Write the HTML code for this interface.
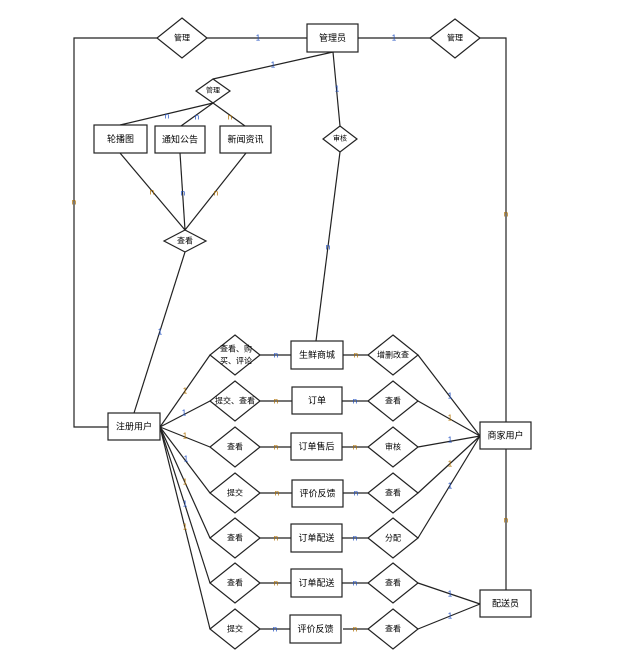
<!DOCTYPE html>
<html><head><meta charset="utf-8"><style>
html,body{margin:0;padding:0;background:#fff;width:631px;height:670px;overflow:hidden}
svg{display:block}
text{font-family:"Liberation Sans","Noto Sans CJK SC",sans-serif;font-size:9px;text-anchor:middle;dominant-baseline:central;fill:#000}
.l{font-size:8px;fill:#b07000}
.b{font-size:8px;fill:#2050c0}
line,polyline,polygon,rect{stroke:#222;stroke-width:1.2;fill:none}
rect,polygon{fill:#fff}
</style></head><body>
<svg width="631" height="670" viewBox="0 0 631 670">
<!-- connectors -->
<polyline points="157,38 74,38 74,427 108,427"/>
<line x1="207" y1="38" x2="307" y2="38"/>
<line x1="358" y1="38" x2="430" y2="38"/>
<polyline points="480,38 506,38 506,422"/>
<line x1="506" y1="449" x2="506" y2="590"/>
<line x1="333" y1="52" x2="213" y2="79"/>
<line x1="333" y1="52" x2="340" y2="126"/>
<line x1="340" y1="152" x2="316" y2="341"/>
<line x1="213" y1="103" x2="120" y2="125"/>
<line x1="213" y1="103" x2="181" y2="126"/>
<line x1="213" y1="103" x2="245" y2="126"/>
<line x1="120" y1="153" x2="185" y2="230"/>
<line x1="180" y1="153" x2="185" y2="230"/>
<line x1="246" y1="153" x2="185" y2="230"/>
<line x1="185" y1="252" x2="134" y2="413"/>
<g>
<line x1="160" y1="427" x2="210" y2="355"/>
<line x1="160" y1="427" x2="210" y2="401"/>
<line x1="160" y1="427" x2="210" y2="447"/>
<line x1="160" y1="427" x2="210" y2="493"/>
<line x1="160" y1="427" x2="210" y2="538"/>
<line x1="160" y1="427" x2="210" y2="583"/>
<line x1="160" y1="427" x2="210" y2="629"/>
</g>
<g>
<line x1="260" y1="355" x2="291" y2="355"/><line x1="343" y1="355" x2="368" y2="355"/>
<line x1="260" y1="401" x2="292" y2="401"/><line x1="342" y1="401" x2="368" y2="401"/>
<line x1="260" y1="447" x2="291" y2="447"/><line x1="342" y1="447" x2="368" y2="447"/>
<line x1="260" y1="493" x2="292" y2="493"/><line x1="343" y1="493" x2="368" y2="493"/>
<line x1="260" y1="538" x2="291" y2="538"/><line x1="342" y1="538" x2="368" y2="538"/>
<line x1="260" y1="583" x2="291" y2="583"/><line x1="342" y1="583" x2="368" y2="583"/>
<line x1="260" y1="629" x2="292" y2="629"/><line x1="343" y1="629" x2="368" y2="629"/>
</g>
<line x1="418" y1="355" x2="480" y2="436"/>
<line x1="418" y1="401" x2="480" y2="436"/>
<line x1="418" y1="447" x2="480" y2="436"/>
<line x1="418" y1="493" x2="480" y2="436"/>
<line x1="418" y1="538" x2="480" y2="436"/>
<line x1="418" y1="583" x2="480" y2="604"/>
<line x1="418" y1="629" x2="480" y2="604"/>

<!-- entities -->
<rect x="307" y="24" width="51" height="28"/><text x="332.5" y="38">管理员</text>
<rect x="94" y="125" width="53" height="28"/><text x="120.5" y="139">轮播图</text>
<rect x="155" y="126" width="50" height="27"/><text x="180" y="139.5">通知公告</text>
<rect x="220" y="126" width="51" height="27"/><text x="245.5" y="139.5">新闻资讯</text>
<rect x="108" y="413" width="52" height="27"/><text x="134" y="426.5">注册用户</text>
<rect x="291" y="341" width="52" height="28"/><text x="317" y="355">生鲜商城</text>
<rect x="292" y="387" width="50" height="27"/><text x="317" y="400.5">订单</text>
<rect x="291" y="433" width="51" height="27"/><text x="316.5" y="446.5">订单售后</text>
<rect x="292" y="480" width="51" height="27"/><text x="317.5" y="493.5">评价反馈</text>
<rect x="291" y="524" width="51" height="28"/><text x="316.5" y="538">订单配送</text>
<rect x="291" y="569" width="51" height="28"/><text x="316.5" y="583">订单配送</text>
<rect x="290" y="615" width="51" height="28"/><text x="315.5" y="629">评价反馈</text>
<rect x="480" y="422" width="51" height="27"/><text x="505.5" y="435.5">商家用户</text>
<rect x="480" y="590" width="51" height="27"/><text x="505.5" y="603.5">配送员</text>

<!-- diamonds -->
<polygon points="182,18 207,38 182,58 157,38"/><text x="182" y="38" style="font-size:8px">管理</text>
<polygon points="455,19 480,38 455,58 430,38"/><text x="455" y="38" style="font-size:8px">管理</text>
<polygon points="213,79 230,91 213,103 196,91"/><text x="213" y="91" style="font-size:7px">管理</text>
<polygon points="340,126 357,139 340,152 323,139"/><text x="340" y="139" style="font-size:7px">审核</text>
<polygon points="185,230 206,241 185,252 164,241"/><text x="185" y="241" style="font-size:8px">查看</text>

<polygon points="235,335 260,355 235,375 210,355"/><text x="236" y="349" style="font-size:8px">查看、购</text><text x="236" y="361" style="font-size:8px">买、评论</text>
<polygon points="235,381 260,401 235,421 210,401"/><text x="235" y="401" style="font-size:8px">提交、查看</text>
<polygon points="235,427 260,447 235,467 210,447"/><text x="235" y="447" style="font-size:8px">查看</text>
<polygon points="235,473 260,493 235,513 210,493"/><text x="235" y="493" style="font-size:8px">提交</text>
<polygon points="235,518 260,538 235,558 210,538"/><text x="235" y="538" style="font-size:8px">查看</text>
<polygon points="235,563 260,583 235,603 210,583"/><text x="235" y="583" style="font-size:8px">查看</text>
<polygon points="235,609 260,629 235,649 210,629"/><text x="235" y="629" style="font-size:8px">提交</text>

<polygon points="393,335 418,355 393,375 368,355"/><text x="393" y="355" style="font-size:8px">增删改查</text>
<polygon points="393,381 418,401 393,421 368,401"/><text x="393" y="401" style="font-size:8px">查看</text>
<polygon points="393,427 418,447 393,467 368,447"/><text x="393" y="447" style="font-size:8px">审核</text>
<polygon points="393,473 418,493 393,513 368,493"/><text x="393" y="493" style="font-size:8px">查看</text>
<polygon points="393,518 418,538 393,558 368,538"/><text x="393" y="538" style="font-size:8px">分配</text>
<polygon points="393,563 418,583 393,603 368,583"/><text x="393" y="583" style="font-size:8px">查看</text>
<polygon points="393,609 418,629 393,649 368,629"/><text x="393" y="629" style="font-size:8px">查看</text>

<!-- labels -->
<g>
<text class="b" x="258" y="38">1</text>
<text class="b" x="394" y="38">1</text>
<text class="l" x="74" y="202">n</text>
<text class="l" x="506" y="214">n</text>
<text class="l" x="506" y="520">n</text>
<text class="b" x="273" y="65">1</text>
<text class="b" x="337" y="89">1</text>
<text class="b" x="328" y="247">n</text>
<text class="b" x="167" y="116">n</text>
<text class="b" x="197" y="117">n</text>
<text class="l" x="230" y="117">n</text>
<text class="l" x="152" y="192">n</text>
<text class="b" x="183" y="193">n</text>
<text class="l" x="216" y="193">n</text>
<text class="b" x="160" y="332">1</text>
<text class="l" x="185" y="391">1</text>
<text class="b" x="184" y="413">1</text>
<text class="l" x="185" y="436">1</text>
<text class="b" x="186" y="459">1</text>
<text class="l" x="185" y="482">1</text>
<text class="b" x="185" y="504">1</text>
<text class="l" x="185" y="527">1</text>
<text class="b" x="276" y="355">n</text><text class="l" x="356" y="355">n</text>
<text class="l" x="276" y="401">n</text><text class="b" x="355" y="401">n</text>
<text class="l" x="276" y="447">n</text><text class="l" x="355" y="447">n</text>
<text class="l" x="277" y="493">n</text><text class="b" x="356" y="493">n</text>
<text class="l" x="276" y="538">n</text><text class="b" x="355" y="538">n</text>
<text class="l" x="276" y="583">n</text><text class="b" x="355" y="583">n</text>
<text class="b" x="275" y="629">n</text><text class="l" x="355" y="629">n</text>
<text class="b" x="450" y="396">1</text>
<text class="l" x="450" y="418">1</text>
<text class="b" x="450" y="440">1</text>
<text class="l" x="450" y="464">1</text>
<text class="b" x="450" y="486">1</text>
<text class="b" x="450" y="594">1</text>
<text class="b" x="450" y="616">1</text>
</g>
</svg>
</body></html>
